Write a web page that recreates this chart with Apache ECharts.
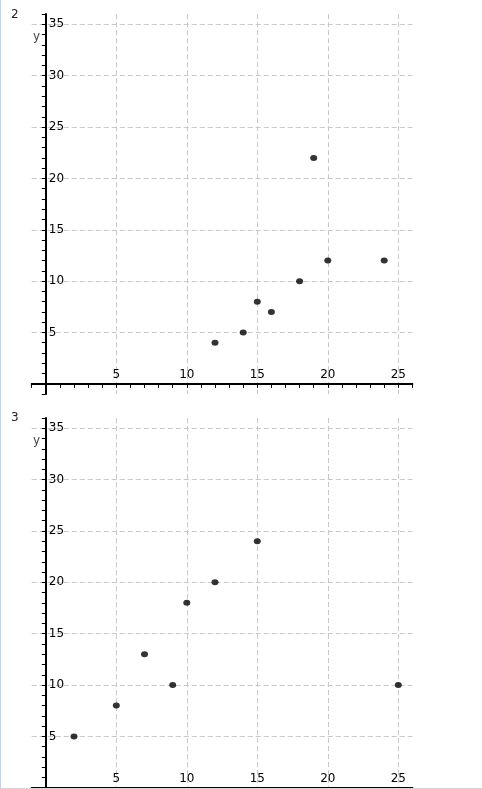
<!DOCTYPE html>
<html>
<head>
<meta charset="utf-8">
<script src="https://cdn.jsdelivr.net/npm/echarts@6/dist/echarts.min.js"></script>
<style>
  html, body { margin: 0; padding: 0; background: #fff; overflow: hidden; }
  #chart { width: 482px; height: 800px; }
  #edgeL { position: absolute; left: 0; top: 0; width: 1px; height: 800px; background: #c3d3ea; }
  #edgeB { position: absolute; left: 0; top: 788px; width: 482px; height: 1px; background: #d6d6d6; }
</style>
</head>
<body>
<div id="chart"></div>
<div id="edgeL"></div>
<div id="edgeB"></div>
<script>
// Panel labels
const panelLabels = ['2', '3'];
const axisName = 'y';

// Tick labels shown on the axes
const xTickLabels = [5, 10, 15, 20, 25];
const yTickLabels = [5, 10, 15, 20, 25, 30, 35];

// Axis ranges
const xRange = [-1, 26];
const yRange = [-1, 36];

// Panel 2 data
const panel2X = [12, 14, 15, 16, 18, 19, 20, 24];
const panel2Y = [4, 5, 8, 7, 10, 22, 12, 12];

// Panel 3 data
const panel3X = [2, 5, 7, 9, 10, 12, 15, 25];
const panel3Y = [5, 8, 13, 10, 18, 20, 24, 10];

const FONT = 'DejaVu Sans';
const T = 'rgba(0,0,0,0)';
const GRIDC = '#c8c8c8';
const gridColors = [T, GRIDC, T, T, T];
const LABEL_GAP = 3;

function pairs(xs, ys) { return xs.map((x, i) => [x, ys[i]]); }

function xAxisFor(idx, margin) {
  return {
    type: 'value', gridIndex: idx, min: xRange[0], max: xRange[1], interval: 1,
    axisLine: { onZero: true, lineStyle: { color: '#000', width: 2 } },
    axisTick: { show: true, inside: false, length: 4, lineStyle: { color: '#000', width: 1 } },
    axisLabel: {
      inside: true, margin: margin, color: '#000', fontFamily: FONT, fontSize: 12,
      formatter: v => xTickLabels.includes(v) ? String(v) : ''
    },
    splitLine: { show: true, lineStyle: { color: gridColors, type: [5, 3], width: 1 } }
  };
}
function yAxisFor(idx, margin) {
  return {
    type: 'value', gridIndex: idx, min: yRange[0], max: yRange[1], interval: 1,
    axisLine: { onZero: true, lineStyle: { color: '#000', width: 2 } },
    axisTick: { show: true, inside: false, length: 4, lineStyle: { color: '#000', width: 1 } },
    axisLabel: {
      inside: true, margin: margin, color: '#000', fontFamily: FONT, fontSize: 12,
      formatter: v => yTickLabels.includes(v) ? String(v) : ''
    },
    splitLine: { show: true, lineStyle: { color: gridColors, type: [5, 3], width: 1 } }
  };
}

const titleStyle = { color: '#222', fontFamily: FONT, fontSize: 12, fontWeight: 'normal' };
const axisNameStyle = { color: '#444', fontFamily: FONT, fontSize: 12, fontWeight: 'normal' };

function buildOption(xm, ym) {
  return {
    animation: false,
    backgroundColor: '#fff',
    title: [
      { text: panelLabels[0], left: 11, top: 9, padding: 0, textStyle: titleStyle },
      { text: panelLabels[1], left: 11, top: 412, padding: 0, textStyle: titleStyle },
      { text: axisName, left: 33, top: 31, padding: 0, textStyle: axisNameStyle },
      { text: axisName, left: 33, top: 435, padding: 0, textStyle: axisNameStyle }
    ],
    grid: [
      { left: 31.7, top: 14.1, width: 380.7, height: 380, containLabel: false },
      { left: 31.7, top: 418, width: 380.7, height: 380, containLabel: false }
    ],
    xAxis: [xAxisFor(0, xm), xAxisFor(1, xm)],
    yAxis: [yAxisFor(0, ym), yAxisFor(1, ym)],
    series: [
      {
        type: 'scatter', xAxisIndex: 0, yAxisIndex: 0,
        data: pairs(panel2X, panel2Y),
        symbol: 'circle', symbolSize: [7, 6],
        itemStyle: { color: '#000' }
      },
      {
        type: 'scatter', xAxisIndex: 1, yAxisIndex: 1,
        data: pairs(panel3X, panel3Y),
        symbol: 'circle', symbolSize: [7, 6],
        itemStyle: { color: '#000' }
      }
    ]
  };
}

const chart = echarts.init(document.getElementById('chart'), null, { renderer: 'canvas' });
chart.setOption(buildOption(LABEL_GAP, LABEL_GAP));
// Labels sit at the grid edge; push them to the zero lines using the library's own scale.
const pZero = chart.convertToPixel({ gridIndex: 0 }, [0, 0]);
const pMin = chart.convertToPixel({ gridIndex: 0 }, [xRange[0], yRange[0]]);
const xMargin = Math.abs(pMin[1] - pZero[1]) + LABEL_GAP;
const yMargin = Math.abs(pZero[0] - pMin[0]) + LABEL_GAP;
chart.setOption(buildOption(xMargin, yMargin));
</script>
</body>
</html>
